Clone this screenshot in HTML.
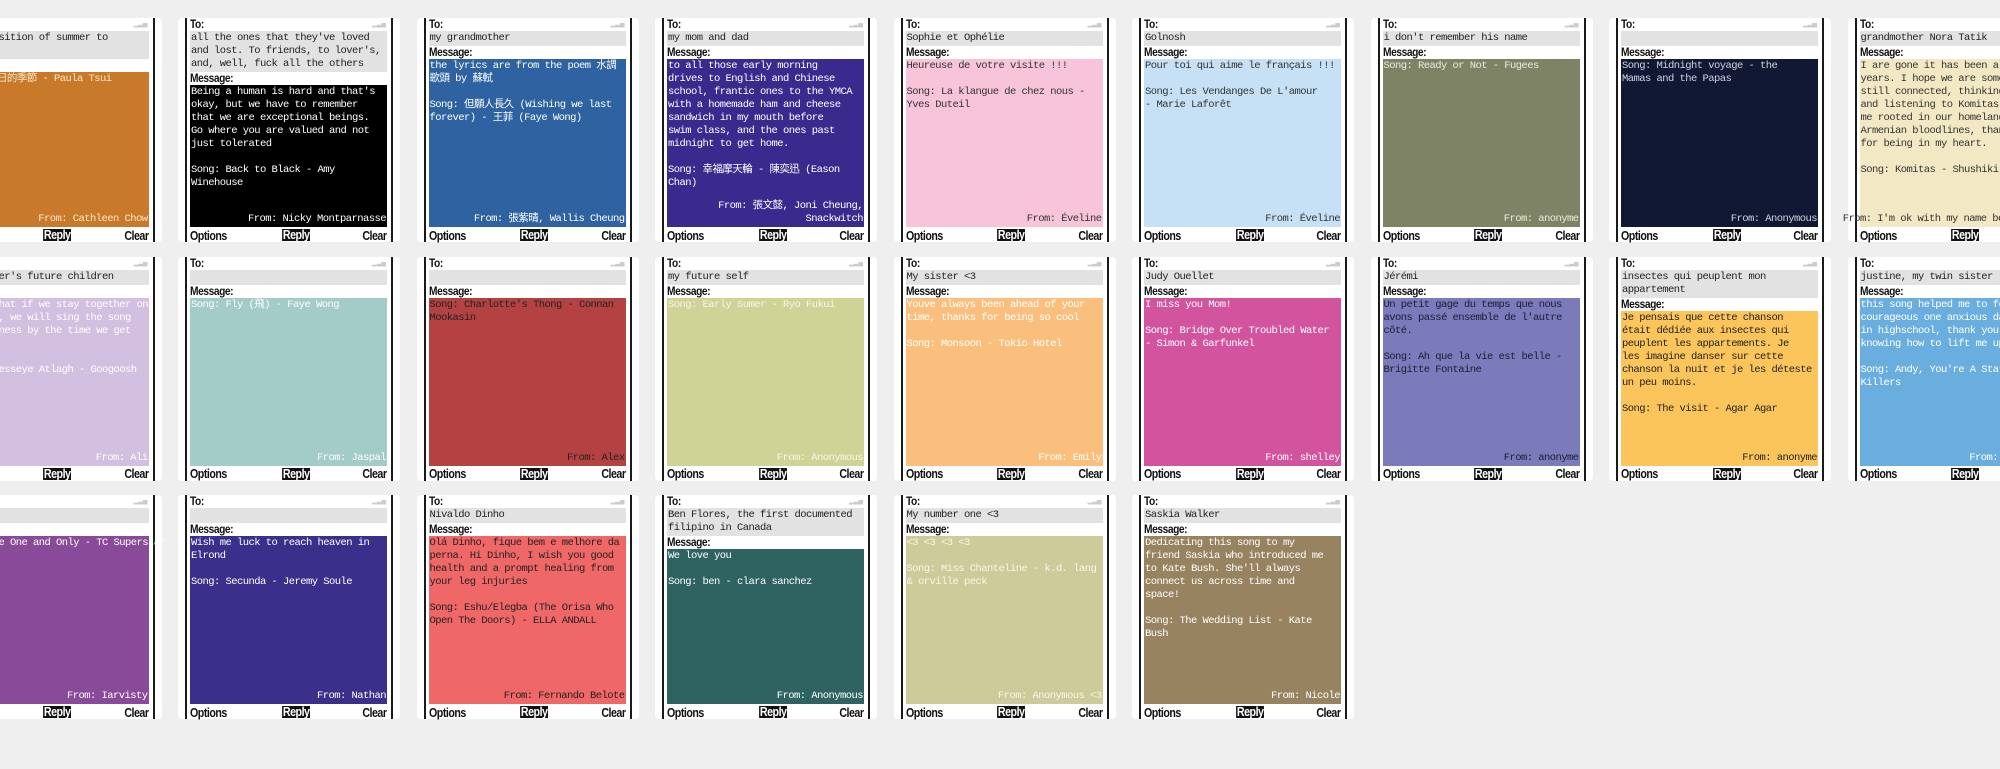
<!DOCTYPE html>
<html><head><meta charset="utf-8">
<style>
html,body{margin:0;padding:0;}
body{width:2000px;height:769px;background:#efefef;position:relative;overflow:hidden;}
.card{position:absolute;width:222px;height:224px;background:#fff;border-radius:4px;}
.frame{position:absolute;left:7px;right:7px;top:0;bottom:0;border-left:2px solid #1a1a1a;border-right:2px solid #1a1a1a;}
.inner{position:absolute;left:12px;width:197px;top:0;height:224px;display:flex;flex-direction:column;}
.lbl{font-family:"Liberation Sans Narrow","Liberation Sans",sans-serif;font-weight:bold;font-size:12px;line-height:13px;height:13px;color:#111;letter-spacing:-0.5px;transform:scaleX(0.85);transform-origin:left;}
.sig{position:absolute;right:14px;top:3px;font-size:6px;color:#ccc;font-family:"Liberation Sans",sans-serif;}
.to{background:#e2e2e2;color:#222;font-family:"Liberation Mono","Noto Sans CJK TC",monospace;font-size:10.5px;letter-spacing:-0.55px;line-height:13px;white-space:pre;padding:1px 0 1px 1px;min-height:13px;overflow:visible;}
.box{flex:1;position:relative;font-family:"Liberation Mono","Noto Sans CJK TC",monospace;font-size:10.5px;letter-spacing:-0.55px;line-height:13px;white-space:pre;padding:1px 0 0 1px;}
.from{position:absolute;right:1px;bottom:1px;text-align:right;white-space:pre;}
.bar{height:14px;margin-top:1px;display:flex;justify-content:space-between;align-items:center;font-family:"Liberation Sans Narrow","Liberation Sans",sans-serif;font-weight:bold;font-size:13px;color:#111;letter-spacing:-0.6px;}
.bar span{display:inline-block;transform:scaleX(0.82);}
.bar span:first-child{transform-origin:left;}
.bar span:last-child{transform-origin:right;}
.reply{background:#111;color:#fff;padding:0 1px;line-height:12px;}
</style></head><body>
<script>
const rows=[0,0,0,0,0,0,0,0,0,1,1,1,1,1,1,1,1,1,2,2,2,2,2,2];
const cols=[0,1,2,3,4,5,6,7,8,0,1,2,3,4,5,6,7,8,0,1,2,3,4,5];
const toText=[
"the transition of summer to\nautumn",
"all the ones that they've loved\nand lost. To friends, to lover's,\nand, well, fuck all the others",
"my grandmother","my mom and dad","Sophie et Ophélie","Golnosh","i don't remember his name","","grandmother Nora Tatik",
"my brother's future children","","","my future self","My sister <3","Judy Ouellet","Jérémi","insectes qui peuplent mon\nappartement","justine, my twin sister",
"","","Nivaldo Dinho","Ben Flores, the first documented\nfilipino in Canada","My number one <3","Saskia Walker"];
const msgText=[
"Song: 夏日的季節 - Paula Tsui",
"Being a human is hard and that's\nokay, but we have to remember\nthat we are exceptional beings.\nGo where you are valued and not\njust tolerated\n\nSong: Back to Black - Amy\nWinehouse",
"the lyrics are from the poem 水調\n歌頭 by 蘇軾\n\nSong: 但願人長久 (Wishing we last\nforever) - 王菲 (Faye Wong)",
"to all those early morning\ndrives to English and Chinese\nschool, frantic ones to the YMCA\nwith a homemade ham and cheese\nsandwich in my mouth before\nswim class, and the ones past\nmidnight to get home.\n\nSong: 幸福摩天輪 - 陳奕迅 (Eason\nChan)",
"Heureuse de votre visite !!!\n\nSong: La klangue de chez nous -\nYves Duteil",
"Pour toi qui aime le français !!!\n\nSong: Les Vendanges De L'amour\n- Marie Laforêt",
"Song: Ready or Not - Fugees",
"Song: Midnight voyage - the\nMamas and the Papas",
"I are gone it has been almost\nyears. I hope we are somehow\nstill connected, thinking of\nand listening to Komitas keeps\nme rooted in our homeland and\nArmenian bloodlines, thank you\nfor being in my heart.\n\nSong: Komitas - Shushiki",
"I hope that if we stay together on\nthat day, we will sing the song\nof happiness by the time we get\nold\n\nSong: Ghesseye Atlagh - Googoosh",
"Song: Fly (飛) - Faye Wong",
"Song: Charlotte's Thong - Connan\nMookasin",
"Song: Early Sumer - Ryo Fukui",
"Youve always been ahead of your\ntime, thanks for being so cool\n\nSong: Monsoon - Tokio Hotel",
"I miss you Mom!\n\nSong: Bridge Over Troubled Water\n- Simon & Garfunkel",
"Un petit gage du temps que nous\navons passé ensemble de l'autre\ncôté.\n\nSong: Ah que la vie est belle -\nBrigitte Fontaine",
"Je pensais que cette chanson\nétait dédiée aux insectes qui\npeuplent les appartements. Je\nles imagine danser sur cette\nchanson la nuit et je les déteste\nun peu moins.\n\nSong: The visit - Agar Agar",
"this song helped me to feel\ncourageous one anxious day\nin highschool, thank you for\nknowing how to lift me up\n\nSong: Andy, You're A Star - The\nKillers",
"Song: The One and Only - TC Superstar",
"Wish me luck to reach heaven in\nElrond\n\nSong: Secunda - Jeremy Soule",
"Olá Dinho, fique bem e melhore da\nperna. Hi Dinho, I wish you good\nhealth and a prompt healing from\nyour leg injuries\n\nSong: Eshu/Elegba (The Orisa Who\nOpen The Doors) - ELLA ANDALL",
"We love you\n\nSong: ben - clara sanchez",
"<3 <3 <3 <3\n\nSong: Miss Chanteline - k.d. lang\n& orville peck",
"Dedicating this song to my\nfriend Saskia who introduced me\nto Kate Bush. She'll always\nconnect us across time and\nspace!\n\nSong: The Wedding List - Kate\nBush"];
const fromText=["Cathleen Chow","Nicky Montparnasse","張紫晴, Wallis Cheung","張文懿, Joni Cheung,\nSnackwitch","Éveline","Éveline","anonyme","Anonymous","I'm ok with my name being shown",
"Ali","Jaspal","Alex","Anonymous","Emily","shelley","anonyme","anonyme","Justine x",
"Iarvisty","Nathan","Fernando Belote","Anonymous","Anonymous <3","Nicole"];
const bgColors=["#c8792a","#000000","#2e62a0","#3b2a8e","#f7c4d9","#c6e1f5","#7e8366","#111833","#f3e8c4",
"#d3bfe0","#a3cbc7","#b54242","#cfd395","#fabf7d","#d3549e","#7b7aba","#fcc55b","#6aaee0",
"#8a4a9a","#3b2f8c","#f06767","#2f6361","#cecb9b","#978360"];
const fgColors=["#ffe9c8","#ffffff","#ffffff","#ffffff","#333333","#333333","#ecece0","#d0d4e0","#333333",
"#ffffff","#ffffff","#222222","#f6f6e6","#ffffff","#ffffff","#1c1c30","#222222","#ffffff",
"#ffffff","#ffffff","#222222","#ffffff","#f6f6e6","#ffffff"];

const PITCH_X=238.5, PITCH_Y=238.5, X0=-60.5, Y0=18;
for(let i=0;i<rows.length;i++){
  const card=document.createElement('div');
  card.className='card';
  
  
  card.style.left=(X0+cols[i]*PITCH_X)+'px';
  card.style.top=(Y0+rows[i]*PITCH_Y)+'px';
  const frame=document.createElement('div');frame.className='frame';
  
  
  card.appendChild(frame);
  const sig=document.createElement('div');sig.className='sig';sig.textContent='▂▃▅';
  
  
  card.appendChild(sig);
  const inner=document.createElement('div');inner.className='inner';
  const l1=document.createElement('div');l1.className='lbl';l1.textContent='To:';
  
  
  const to=document.createElement('div');to.className='to';to.textContent=toText[i];
  
  
  const l2=document.createElement('div');l2.className='lbl';l2.textContent='Message:';
  
  
  const box=document.createElement('div');box.className='box';
  
  
  box.style.background=bgColors[i];box.style.color=fgColors[i];
  box.appendChild(document.createTextNode(msgText[i]));
  const fr=document.createElement('div');fr.className='from';fr.textContent='From: '+fromText[i];
  
  
  box.appendChild(fr);
  const bar=document.createElement('div');bar.className='bar';
  
  
  const o=document.createElement('span');o.textContent='Options';
  
  
  const r=document.createElement('span');r.className='reply';r.textContent='Reply';
  
  
  const c=document.createElement('span');c.textContent='Clear';
  
  
  bar.appendChild(o);bar.appendChild(r);bar.appendChild(c);
  inner.appendChild(l1);inner.appendChild(to);inner.appendChild(l2);inner.appendChild(box);inner.appendChild(bar);
  card.appendChild(inner);
  document.body.appendChild(card);
}
</script>
</body></html>
